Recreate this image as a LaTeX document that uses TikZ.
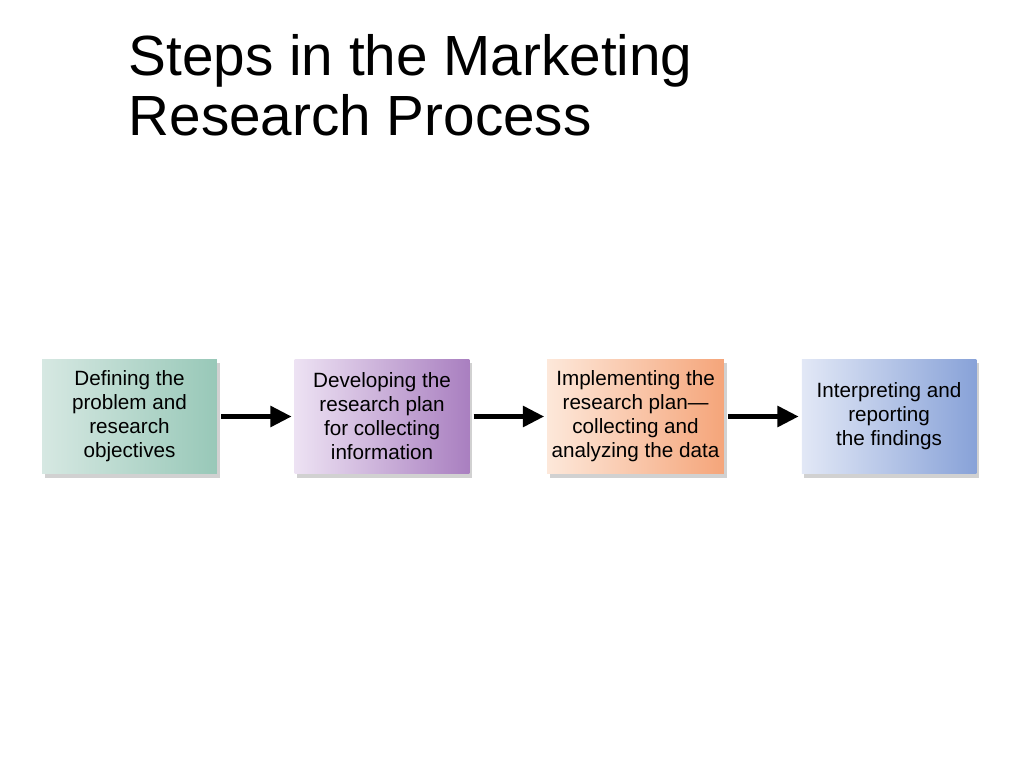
\documentclass[tikz,border=0pt]{standalone}
\usepackage{fontspec}
\setmainfont{Liberation Sans}
\usetikzlibrary{positioning,arrows.meta,shadows}
\definecolor{greenL}{HTML}{D6E8E2}
\definecolor{greenR}{HTML}{98C8B8}
\definecolor{purpL}{HTML}{EDE2F3}
\definecolor{purpR}{HTML}{A97FC0}
\definecolor{oranL}{HTML}{FDE8DA}
\definecolor{oranR}{HTML}{F5A57A}
\definecolor{blueL}{HTML}{E2E8F6}
\definecolor{blueR}{HTML}{88A2D8}
\begin{document}
\begin{tikzpicture}[
    x=0.75pt, y=-0.75pt,
    stepbox/.style={
        rectangle,
        minimum width=131pt,
        minimum height=86pt,
        font=\fontsize{15.5}{18}\selectfont,
        align=center,
        drop shadow={shadow xshift=2pt, shadow yshift=-3pt, fill=gray!60, opacity=0.6}
    },
    flow/.style={-{Triangle[length=16pt,width=15pt]}, line width=4pt}
]
\useasboundingbox (0,0) rectangle (1024,767);

\node[anchor=north west, align=left, font=\fontsize{42.5}{45}\selectfont] (title) at (124,30)
    {Steps in the Marketing\\Research Process};

\node[stepbox, left color=greenL, right color=greenR] (define) at (129.5,416.5)
    {Defining the\\problem and\\research\\objectives};
\node[stepbox, left color=purpL, right color=purpR, right=58pt of define] (develop)
    {Developing the\\research plan\\for collecting\\information};
\node[stepbox, left color=oranL, right color=oranR, right=58pt of develop] (implement)
    {Implementing the\\research plan---\\collecting and\\analyzing the data};
\node[stepbox, left color=blueL, right color=blueR, right=58pt of implement] (interpret)
    {Interpreting and\\reporting\\the findings};

\draw[flow] ([xshift=3pt]define.east) -- ([xshift=-2pt]develop.west);
\draw[flow] ([xshift=3pt]develop.east) -- ([xshift=-2pt]implement.west);
\draw[flow] ([xshift=3pt]implement.east) -- ([xshift=-2pt]interpret.west);
\end{tikzpicture}
\end{document}
